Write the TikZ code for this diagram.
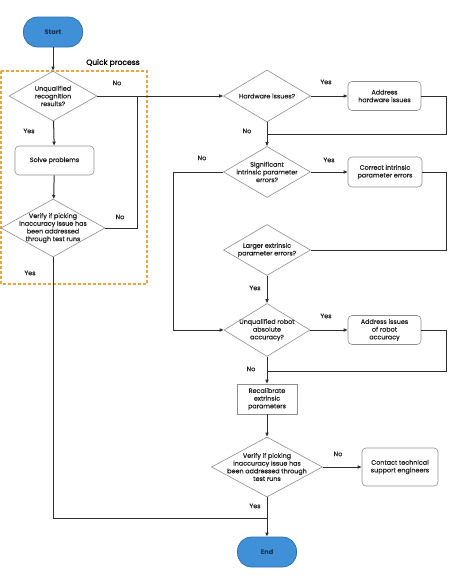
\documentclass[tikz,border=0pt]{standalone}
\usepackage{fontspec}
\setmainfont{Poppins}[FakeBold=0.6]
\newfontfamily\qpfont{Poppins}[FakeBold=1.2]
\newfontfamily\plainfont{Poppins}
\usetikzlibrary{shapes.geometric,arrows.meta}
\definecolor{lnc}{HTML}{2E2E2E}
\definecolor{bordc}{HTML}{8E8E8E}
\definecolor{termfill}{HTML}{3F90D6}
\definecolor{termdraw}{HTML}{2F6FAE}
\definecolor{termtext}{HTML}{1B2D4F}
\definecolor{qorange}{HTML}{F2A23A}
\definecolor{txtc}{HTML}{222222}
\begin{document}
\begin{tikzpicture}[x=1pt,y=-1pt,
  font=\fontsize{6.4}{7.7}\selectfont, text=txtc,
  term/.style={rectangle, rounded corners=14pt, minimum width=59pt, minimum height=30pt, fill=termfill, draw=termdraw, line width=0.7pt, text=termtext, font=\fontsize{6.6}{8}\plainfont\bfseries},
  dia/.style={diamond, draw=bordc, line width=0.6pt, inner sep=0pt},
  dtext/.style={align=center, inner sep=0pt},
  box/.style={rectangle, rounded corners=4pt, draw=bordc, align=center, line width=0.6pt, inner sep=1pt},
  sqbox/.style={rectangle, draw=bordc, align=center, line width=0.6pt, inner sep=1pt},
  conn/.style={draw=lnc, line width=1pt},
  arr/.style={conn, -{Latex[length=4pt,width=3.8pt]}},
  lab/.style={inner sep=0pt, text=txtc}]

\useasboundingbox (0,0) rectangle (474,576);
\fill[white] (0,0) rectangle (474,576);

% quick process frame
\draw[qorange, line width=1.3pt, dash pattern=on 3pt off 2pt] (1,71) rectangle (147,284);
\node[lab, font=\fontsize{7.6}{9}\qpfont, text=black] (qp) at (113,63) {Quick process};

% nodes
\node[term] (start) at (53,32) {Start};
\node[dia, minimum width=88pt, minimum height=50pt] (d1) at (53,96) {};
\node[dtext] (d1t) at (d1) {Unqualified\\recognition\\results?};
\node[box, minimum width=79pt, minimum height=29pt] (solve) at (54.5,160.5) {Solve problems};
\node[dia, minimum width=104pt, minimum height=58pt] (d2) at (53,228) {};
\node[dtext] (d2t) at (d2) {Verify if picking\\inaccuracy issue has\\been addressed\\through test runs};

\node[dia, minimum width=87pt, minimum height=52pt] (hw) at (267,96) {};
\node[dtext] (hwt) at (hw) {Hardware issues?};
\node[box, minimum width=73pt, minimum height=29pt] (ahw) at (384.5,96) {Address\\hardware issues};

\node[dia, minimum width=87pt, minimum height=51pt] (sig) at (267,172) {};
\node[dtext] (sigt) at (sig) {Significant\\intrinsic parameter\\errors?};
\node[box, minimum width=74pt, minimum height=30pt] (cie) at (385,172) {Correct intrinsic\\parameter errors};

\node[dia, minimum width=87pt, minimum height=51pt] (lar) at (267,250) {};
\node[dtext] (lart) at (lar) {Larger extrinsic\\parameter errors?};

\node[dia, minimum width=86pt, minimum height=53pt] (rob) at (267,330) {};
\node[dtext] (robt) at (rob) {Unqualified robot\\absolute\\accuracy?};
\node[box, minimum width=73pt, minimum height=29pt] (air) at (384.5,330) {Address issues\\of robot\\accuracy};

\node[sqbox, minimum width=60pt, minimum height=30pt] (rec) at (267,399) {Recalibrate\\extrinsic\\parameters};

\node[dia, minimum width=111pt, minimum height=60pt] (ver) at (267,467) {};
\node[dtext] (vert) at (ver) {Verify if picking\\inaccuracy issue has\\been addressed through\\test runs};
\node[box, minimum width=76pt, minimum height=38pt] (con) at (400,467) {Contact technical\\support engineers};

\node[term] (end) at (267,552) {End};

% junction coordinates
\coordinate (j1) at (137,96);
\coordinate (j2) at (137,228);
\coordinate (j3) at (53,518);
\coordinate (j4) at (267,518);
\coordinate (k1) at (446,96);
\coordinate (k2) at (446,134);
\coordinate (k3) at (267,134);
\coordinate (m1) at (446,172);
\coordinate (m2) at (446,250);
\coordinate (n1) at (173,172);
\coordinate (n2) at (173,330);
\coordinate (p1) at (446,330);
\coordinate (p2) at (446,371);
\coordinate (p3) at (267,371);

% connectors
\draw[arr] (start) -- (d1);
\draw[arr] (d1) -- (solve);
\draw[arr] (solve) -- (d2);
\draw[arr] (d1.east) -- (hw.west);
\draw[conn] (d2.east) -- (j2) -- (j1);
\draw[conn] (d2.south) -- (j3) -- (j4);
\draw[arr] (hw.east) -- (ahw.west);
\draw[conn] (ahw.east) -- (k1) -- (k2) -- (k3);
\draw[arr] (hw.south) -- (sig.north);
\draw[arr] (sig.east) -- (cie.west);
\draw[conn] (cie.east) -- (m1) -- (m2) -- (lar.east);
\draw[arr] (sig.west) -- (n1) -- (n2) -- (rob.west);
\draw[arr] (lar.south) -- (rob.north);
\draw[arr] (rob.east) -- (air.west);
\draw[conn] (air.east) -- (p1) -- (p2) -- (p3);
\draw[arr] (rob.south) -- (rec.north);
\draw[arr] (rec.south) -- (ver.north);
\draw[arr] (ver.east) -- (con.west);
\draw[arr] (ver.south) -- (end.north);

% labels
\node[lab] (l1) at (117,83) {No};
\node[lab] (l2) at (29,131) {Yes};
\node[lab] (l3) at (120,217) {No};
\node[lab] (l4) at (30,273) {Yes};
\node[lab] (l5) at (326,82) {Yes};
\node[lab] (l6) at (247,131) {No};
\node[lab] (l7) at (329,160) {Yes};
\node[lab] (l8) at (202,158) {No};
\node[lab] (l9) at (255,288) {Yes};
\node[lab] (l10) at (326,316) {Yes};
\node[lab] (l11) at (251,369) {No};
\node[lab] (l12) at (338,454) {No};
\node[lab] (l13) at (255,506) {Yes};
\end{tikzpicture}
\end{document}
